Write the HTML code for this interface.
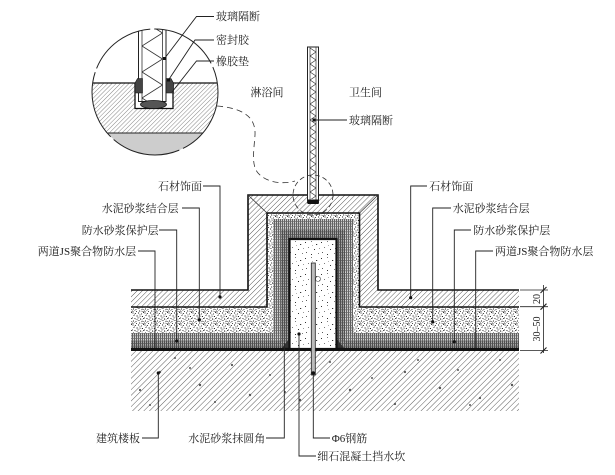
<!DOCTYPE html>
<html><head><meta charset="utf-8"><style>
html,body{margin:0;padding:0;background:#fff;}
svg{display:block;}
text{fill:#222;}
</style></head><body>
<svg width="615" height="475" viewBox="0 0 615 475" xmlns="http://www.w3.org/2000/svg" font-family="'Liberation Serif','Noto Serif CJK SC',serif" font-size="11">
<defs>
<pattern id="hs" width="3.6" height="3.6" patternUnits="userSpaceOnUse" patternTransform="rotate(45)"><line x1="0" y1="0" x2="0" y2="3.6" stroke="#333" stroke-width="0.8"/></pattern>
<pattern id="hb" width="4" height="4" patternUnits="userSpaceOnUse" patternTransform="rotate(45)"><line x1="0" y1="0" x2="0" y2="4" stroke="#333" stroke-width="0.8"/></pattern>
<pattern id="hd" width="3" height="3" patternUnits="userSpaceOnUse" patternTransform="rotate(45)"><line x1="0" y1="0" x2="0" y2="3" stroke="#444" stroke-width="0.65"/></pattern>
<pattern id="dots" width="12" height="12" patternUnits="userSpaceOnUse">
<rect width="12" height="12" fill="#fff"/>
<g fill="#222">
<rect x="0.5" y="0.5" width="1" height="1"/><rect x="3" y="1" width="0.9" height="0.9"/><rect x="6" y="0.5" width="1.1" height="1"/><rect x="9" y="1.5" width="0.9" height="0.9"/><rect x="11" y="0" width="0.9" height="1"/>
<rect x="1.5" y="3" width="0.9" height="0.9"/><rect x="4.5" y="3.5" width="1.2" height="1"/><rect x="7.5" y="2.5" width="0.9" height="0.9"/><rect x="10" y="4" width="1" height="1"/>
<rect x="0" y="5.5" width="0.9" height="0.9"/><rect x="2.5" y="6" width="0.9" height="1"/><rect x="5.5" y="5.5" width="1" height="0.9"/><rect x="8" y="6.5" width="1.1" height="1.1"/><rect x="11" y="6" width="0.9" height="0.9"/>
<rect x="1" y="8.5" width="1" height="1"/><rect x="3.5" y="9" width="0.9" height="0.9"/><rect x="6.5" y="8" width="0.9" height="1"/><rect x="9.5" y="9" width="1" height="0.9"/>
<rect x="0.5" y="11" width="0.9" height="0.9"/><rect x="4" y="11.2" width="1" height="0.8"/><rect x="7" y="10.5" width="0.9" height="1"/><rect x="10.5" y="11" width="1" height="0.9"/>
<rect x="2" y="1.8" width="0.7" height="0.7"/><rect x="8.5" y="4" width="0.7" height="0.7"/><rect x="5" y="7.5" width="0.7" height="0.7"/><rect x="11.3" y="9" width="0.7" height="0.7"/><rect x="2.5" y="10" width="0.7" height="0.7"/>
<rect x="6.8" y="4.6" width="0.7" height="0.7"/><rect x="9.8" y="7.6" width="0.7" height="0.7"/><rect x="3.8" y="7.2" width="0.7" height="0.7"/><rect x="8.8" y="10.8" width="0.7" height="0.7"/><rect x="0.3" y="9.8" width="0.7" height="0.7"/>
</g></pattern>
<pattern id="conc" width="16" height="16" patternUnits="userSpaceOnUse">
<rect width="16" height="16" fill="#fff"/>
<g fill="#333">
<rect x="1" y="2" width="1" height="1"/><rect x="7" y="1" width="0.8" height="0.8"/><rect x="12" y="4" width="1.2" height="1"/><rect x="4" y="7" width="0.8" height="0.8"/><rect x="10" y="9" width="1" height="1"/><rect x="2" y="12" width="1" height="0.8"/><rect x="14" y="13" width="0.8" height="0.8"/><rect x="7" y="14" width="1" height="1"/><rect x="15" y="8" width="0.7" height="0.7"/><rect x="8" y="5" width="0.6" height="0.6"/>
</g></pattern>
<pattern id="grid" width="2" height="2.6" patternUnits="userSpaceOnUse">
<rect width="2" height="2.6" fill="#d2d2d2"/><rect x="0" y="0" width="0.9" height="2.6" fill="#555"/><rect x="0" y="0" width="2" height="0.7" fill="#666"/>
</pattern>
<pattern id="zz" x="310" y="48" width="6" height="8" patternUnits="userSpaceOnUse"><polyline points="0,0 6,4 0,8" fill="none" stroke="#333" stroke-width="0.7"/></pattern>
<pattern id="zz2" x="142" y="20" width="20.5" height="26" patternUnits="userSpaceOnUse"><polyline points="0,0 20.5,13 0,26" fill="none" stroke="#333" stroke-width="0.8"/></pattern>
<clipPath id="cp"><circle cx="155" cy="92" r="63"/></clipPath>
</defs>

<!-- slab -->
<rect x="131" y="350" width="388" height="61" fill="url(#hb)"/>
<g fill="#555">
<circle cx="140" cy="390" r="1.1"/><circle cx="160" cy="372" r="1.2"/><circle cx="175" cy="358" r="1"/><circle cx="200" cy="385" r="1.2"/><circle cx="215" cy="402" r="1"/><circle cx="232" cy="365" r="1.1"/><circle cx="250" cy="395" r="1.2"/><circle cx="270" cy="375" r="1"/><circle cx="300" cy="400" r="1.2"/><circle cx="330" cy="362" r="1"/><circle cx="350" cy="390" r="1.2"/><circle cx="372" cy="378" r="1"/><circle cx="395" cy="404" r="1.1"/><circle cx="418" cy="360" r="1"/><circle cx="440" cy="388" r="1.2"/><circle cx="458" cy="370" r="1"/><circle cx="480" cy="398" r="1.1"/><circle cx="500" cy="360" r="1"/><circle cx="512" cy="385" r="1.2"/><circle cx="150" cy="405" r="1"/><circle cx="190" cy="368" r="1"/><circle cx="285" cy="392" r="1"/><circle cx="405" cy="372" r="1.1"/><circle cx="470" cy="405" r="1"/>
</g>

<!-- mortar (dotted) -->
<polygon points="131,307 267,307 267,213 359.5,213 359.5,307 519,307 519,349 131,349" fill="url(#dots)"/>
<!-- waterproof mortar protection (grid) -->
<polygon points="131,333 273,333 273,219 353,219 353,333 519,333 519,349 131,349" fill="url(#grid)"/>
<polygon points="131,341 281,341 281,230 345,230 345,341 519,341 519,348 131,348" fill="rgba(0,0,0,0.2)"/>
<!-- fillets -->
<polygon points="282,348 289,348 289,339" fill="#333"/>
<polygon points="337,339 337,348 344,348" fill="#333"/>
<!-- JS waterproof line -->
<rect x="131" y="347.8" width="388" height="3.2" fill="#111"/>
<!-- concrete curb -->
<rect x="289.5" y="239" width="47" height="110" fill="url(#conc)" stroke="#111" stroke-width="2.2"/>
<circle cx="318" cy="279" r="2.5" fill="none" stroke="#777" stroke-width="0.8"/>
<!-- rebar -->
<rect x="311.3" y="263" width="4" height="112" fill="#bbb" stroke="#222" stroke-width="0.8"/>

<!-- stone -->
<polygon points="131,290 248,290 248,195 378,195 378,290 519,290 519,307 359.5,307 359.5,213 267,213 267,307 131,307" fill="url(#hs)"/>
<polyline points="131,290 248,290 248,195 378,195 378,290 519,290" fill="none" stroke="#111" stroke-width="1.6"/>
<polyline points="131,307 267,307 267,213 359.5,213 359.5,307 519,307" fill="none" stroke="#111" stroke-width="1.6"/>
<line x1="248" y1="195" x2="267" y2="213" stroke="#333" stroke-width="0.8"/>
<line x1="378" y1="195" x2="359.5" y2="213" stroke="#333" stroke-width="0.8"/>

<!-- main glass -->
<rect x="307.5" y="47" width="11" height="156" fill="#fff" stroke="#222" stroke-width="1"/>
<line x1="310" y1="47" x2="310" y2="200" stroke="#333" stroke-width="0.7"/>
<line x1="316" y1="47" x2="316" y2="200" stroke="#333" stroke-width="0.7"/>
<rect x="310" y="48" width="6" height="151" fill="url(#zz)"/>
<rect x="308" y="199.5" width="10.5" height="4.5" fill="#111"/>

<!-- small dashed circle + connector -->
<circle cx="313" cy="195" r="20" fill="none" stroke="#333" stroke-width="0.8" stroke-dasharray="5 3"/>
<path d="M217,106 C240,108 256,115 255,135 C254,150 251,165 258,173 C268,184 285,184 295,181" fill="none" stroke="#333" stroke-width="0.8" stroke-dasharray="6 4"/>

<!-- detail circle -->
<g clip-path="url(#cp)">
<path d="M80,83 H135 V108.5 H173 V83 H230 V133 H80 Z" fill="url(#hd)"/>
<rect x="80" y="133" width="150" height="30" fill="#cdcdcd"/>
<line x1="80" y1="133" x2="230" y2="133" stroke="#222" stroke-width="1"/>
<polyline points="80,83 135,83 135,108.5 173,108.5 173,83 230,83" fill="none" stroke="#111" stroke-width="1.3"/>
<rect x="138.5" y="20" width="27.5" height="81.5" fill="#fff" stroke="#222" stroke-width="1"/>
<line x1="142" y1="20" x2="142" y2="101.5" stroke="#333" stroke-width="0.8"/>
<line x1="162.5" y1="20" x2="162.5" y2="101.5" stroke="#333" stroke-width="0.8"/>
<rect x="142" y="20" width="20.5" height="81" fill="url(#zz2)"/>
<ellipse cx="153.5" cy="104.5" rx="13" ry="4" fill="#555" stroke="#111" stroke-width="0.8"/>
<polygon points="135,83 137.5,78.5 142.5,78.5 142.5,93 135,93" fill="#444" stroke="#111" stroke-width="0.6"/>
<polygon points="166,78.5 171,78.5 173.5,83 173.5,93 166,93" fill="#444" stroke="#111" stroke-width="0.6"/>
</g>
<circle cx="155" cy="92" r="63" fill="none" stroke="#222" stroke-width="1" stroke-dasharray="70 4"/>

<!-- detail leaders -->
<g stroke="#222" stroke-width="0.9" fill="none">
<polyline points="214,16.5 196.5,16.5 164.5,58.5"/>
<polyline points="214,40 195,40 168.5,80"/>
<polyline points="214,61 196.5,61 172,92"/>
</g>
<g fill="#111"><rect x="163" y="57" width="3" height="3"/><rect x="167" y="78.5" width="3" height="3"/></g>
<text x="216" y="20">玻璃隔断</text>
<text x="216" y="43.5">密封胶</text>
<text x="216" y="65">橡胶垫</text>

<!-- room labels -->
<text x="250.5" y="96">淋浴间</text>
<text x="349" y="96">卫生间</text>
<text x="349" y="124">玻璃隔断</text>
<line x1="314" y1="120" x2="347" y2="120" stroke="#222" stroke-width="0.9"/>
<rect x="312.5" y="118.5" width="3" height="3" fill="#111"/>

<!-- leaders -->
<g stroke="#222" stroke-width="0.9" fill="none">
<polyline points="203,186 220,186 220,297"/>
<polyline points="182,208 199.3,208 199.3,320"/>
<polyline points="159,230 176.7,230 176.7,341"/>
<polyline points="138,251 155,251 155,348"/>
<polyline points="427,186 410.7,186 410.7,297.7"/>
<polyline points="451,208 432.7,208 432.7,321.7"/>
<polyline points="471,230 454.3,230 454.3,341.7"/>
<polyline points="493,251 475.7,251 475.7,348"/>
<polyline points="142,438 158.3,438 158.3,373"/>
<polyline points="266,438 284.3,438 284.3,343"/>
<polyline points="330,438 313.3,438 313.3,373"/>
<polyline points="316,456 299,456 299,334"/>
</g>
<g fill="#111">
<circle cx="220" cy="297" r="1.6"/><circle cx="199.3" cy="320" r="1.6"/><circle cx="176.7" cy="341" r="1.6"/>
<circle cx="410.7" cy="297.7" r="1.6"/><circle cx="432.7" cy="321.7" r="1.6"/><circle cx="454.3" cy="341.7" r="1.6"/>
<circle cx="158.3" cy="373" r="1.6"/><circle cx="313.3" cy="373" r="1.8"/><circle cx="299" cy="334" r="1.6"/>
</g>
<text x="158" y="190">石材饰面</text>
<text x="101.7" y="212">水泥砂浆结合层</text>
<text x="81.7" y="234">防水砂浆保护层</text>
<text x="37.7" y="255">两道JS聚合物防水层</text>
<text x="429.3" y="190">石材饰面</text>
<text x="452.7" y="212">水泥砂浆结合层</text>
<text x="473.3" y="234">防水砂浆保护层</text>
<text x="495" y="255">两道JS聚合物防水层</text>
<text x="96" y="442">建筑楼板</text>
<text x="188.3" y="442">水泥砂浆抹圆角</text>
<text x="331.7" y="442">Φ6钢筋</text>
<text x="317.3" y="460">细石混凝土挡水坎</text>

<!-- dimensions -->
<g stroke="#222" stroke-width="0.8">
<line x1="520" y1="290" x2="548" y2="290"/>
<line x1="520" y1="306.7" x2="548" y2="306.7"/>
<line x1="520" y1="350.5" x2="548" y2="350.5"/>
<line x1="543.5" y1="285" x2="543.5" y2="353"/>
<line x1="540.5" y1="293" x2="546.5" y2="287" stroke-width="1.1"/>
<line x1="540.5" y1="309.7" x2="546.5" y2="303.7" stroke-width="1.1"/>
<line x1="540.5" y1="353.5" x2="546.5" y2="347.5" stroke-width="1.1"/>
</g>
<text transform="translate(540,299) rotate(-90)" text-anchor="middle" font-size="10">20</text>
<text transform="translate(540,329) rotate(-90)" text-anchor="middle" font-size="10">30–50</text>
</svg>
</body></html>
